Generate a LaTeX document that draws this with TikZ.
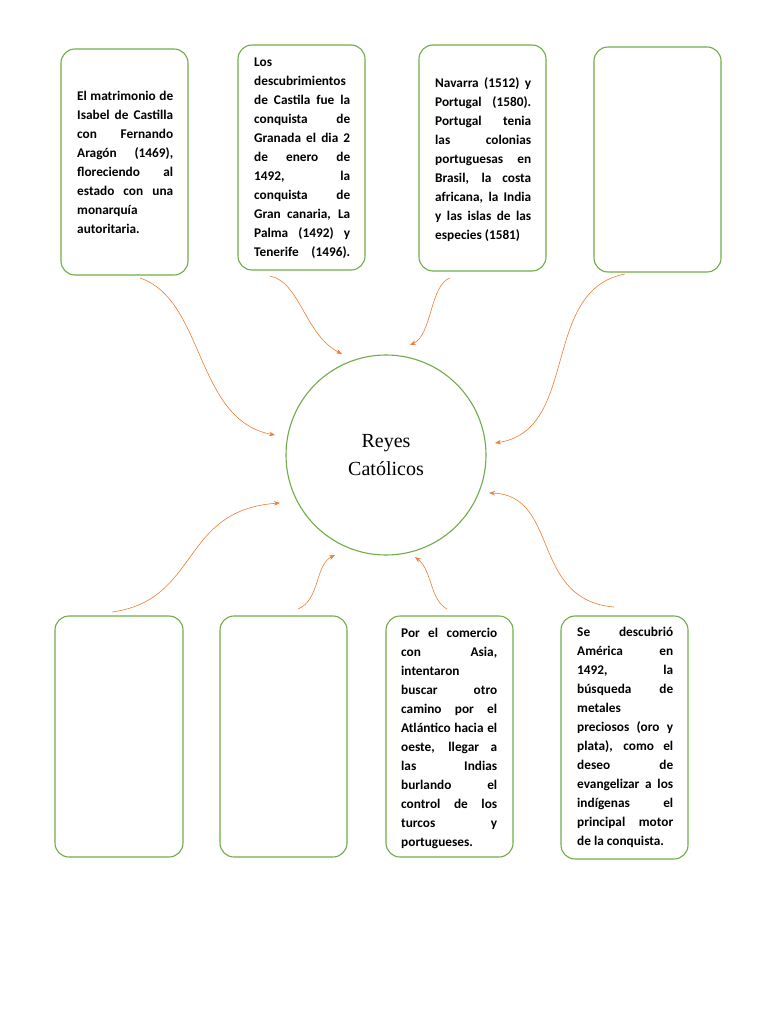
\documentclass[tikz,border=0pt]{standalone}
\usepackage{fontspec}
\setmainfont{Carlito}
\newfontfamily\serifA{Liberation Serif}
\usetikzlibrary{arrows.meta}
\definecolor{gr}{HTML}{70AD47}
\definecolor{org}{HTML}{ED7D31}
\newcommand{\jl}[1]{\makebox[96pt][s]{#1}\\}
\begin{document}
\begin{tikzpicture}[x=1pt,y=-1pt,
  box/.style={draw=gr,line width=1.1pt,rounded corners=14pt},
  txt/.style={anchor=north west,inner sep=0pt,align=left,font=\fontsize{13.3}{19}\selectfont\bfseries},
  arr/.style={draw=org,line width=0.6pt,-{Stealth[length=6pt,width=4.5pt]}}]
\useasboundingbox (0,0) rectangle (768,1024);
\fill[white] (0,0) rectangle (768,1024);
\draw[box] (61,49) rectangle (188,275);
\draw[box] (238,45) rectangle (365,270);
\draw[box] (419,45) rectangle (546,271);
\draw[box] (594,47) rectangle (721,272);
\draw[box] (55,616) rectangle (183,857);
\draw[box] (220,616) rectangle (347,857);
\draw[box] (386,616) rectangle (513,857);
\draw[box] (561,616) rectangle (688,859);
\node[draw=gr,line width=1.1pt,circle,minimum size=200pt,inner sep=0pt] (c) at (386,455) {};
\node[align=center,font=\fontsize{20}{28}\selectfont\serifA] (ct) at (386,455) {Reyes\\Católicos};
\node[txt] (t1) at (77,91) {\jl{El matrimonio de}\jl{Isabel de Castilla}\jl{con Fernando}\jl{Aragón (1469),}\jl{floreciendo al}\jl{estado con una}monarquía\\autoritaria.};
\node[txt] (t2) at (254,58) {Los\\descubrimientos\\\jl{de Castila fue la}\jl{conquista de}\jl{Granada el dia 2}\jl{de enero de}\jl{1492, la}\jl{conquista de}\jl{Gran canaria, La}\jl{Palma (1492) y}\jl{Tenerife (1496).}};
\node[txt] (t3) at (435,77) {\jl{Navarra (1512) y}\jl{Portugal (1580).}\jl{Portugal tenia}\jl{las colonias}\jl{portuguesas en}\jl{Brasil, la costa}\jl{africana, la India}\jl{y las islas de las}especies (1581)};
\node[txt] (t7) at (401,628) {\jl{Por el comercio}\jl{con Asia,}intentaron\\\jl{buscar otro}\jl{camino por el}\jl{Atlántico hacia el}\jl{oeste, llegar a}\jl{las Indias}\jl{burlando el}\jl{control de los}\jl{turcos y}portugueses.};
\node[txt] (t8) at (577,627) {\jl{Se descubrió}\jl{América en}\jl{1492, la}\jl{búsqueda de}metales\\\jl{preciosos (oro y}\jl{plata), como el}\jl{deseo de}\jl{evangelizar a los}\jl{indígenas el}\jl{principal motor}de la conquista.};
\coordinate (s1) at (140,278); \coordinate (e1) at (275,435);
\coordinate (s2) at (270,276); \coordinate (e2) at (342,354);
\coordinate (s3) at (450,278); \coordinate (e3) at (410,345);
\coordinate (s4) at (625,274); \coordinate (e4) at (495,443);
\coordinate (s5) at (112,612); \coordinate (e5) at (280,503);
\coordinate (s6) at (298,609); \coordinate (e6) at (335,555);
\coordinate (s7) at (447,609); \coordinate (e7) at (415,557);
\coordinate (s8) at (614,607); \coordinate (e8) at (489,493);
\draw[arr] (s1) .. controls (205,300) and (195,420) .. (e1);
\draw[arr] (s2) .. controls (300,282) and (305,335) .. (e2);
\draw[arr] (s3) .. controls (430,285) and (432,335) .. (e3);
\draw[arr] (s4) .. controls (540,290) and (580,430) .. (e4);
\draw[arr] (s5) .. controls (200,600) and (180,510) .. (e5);
\draw[arr] (s6) .. controls (320,600) and (315,565) .. (e6);
\draw[arr] (s7) .. controls (430,600) and (432,570) .. (e7);
\draw[arr] (s8) .. controls (530,600) and (560,495) .. (e8);
\end{tikzpicture}
\end{document}
